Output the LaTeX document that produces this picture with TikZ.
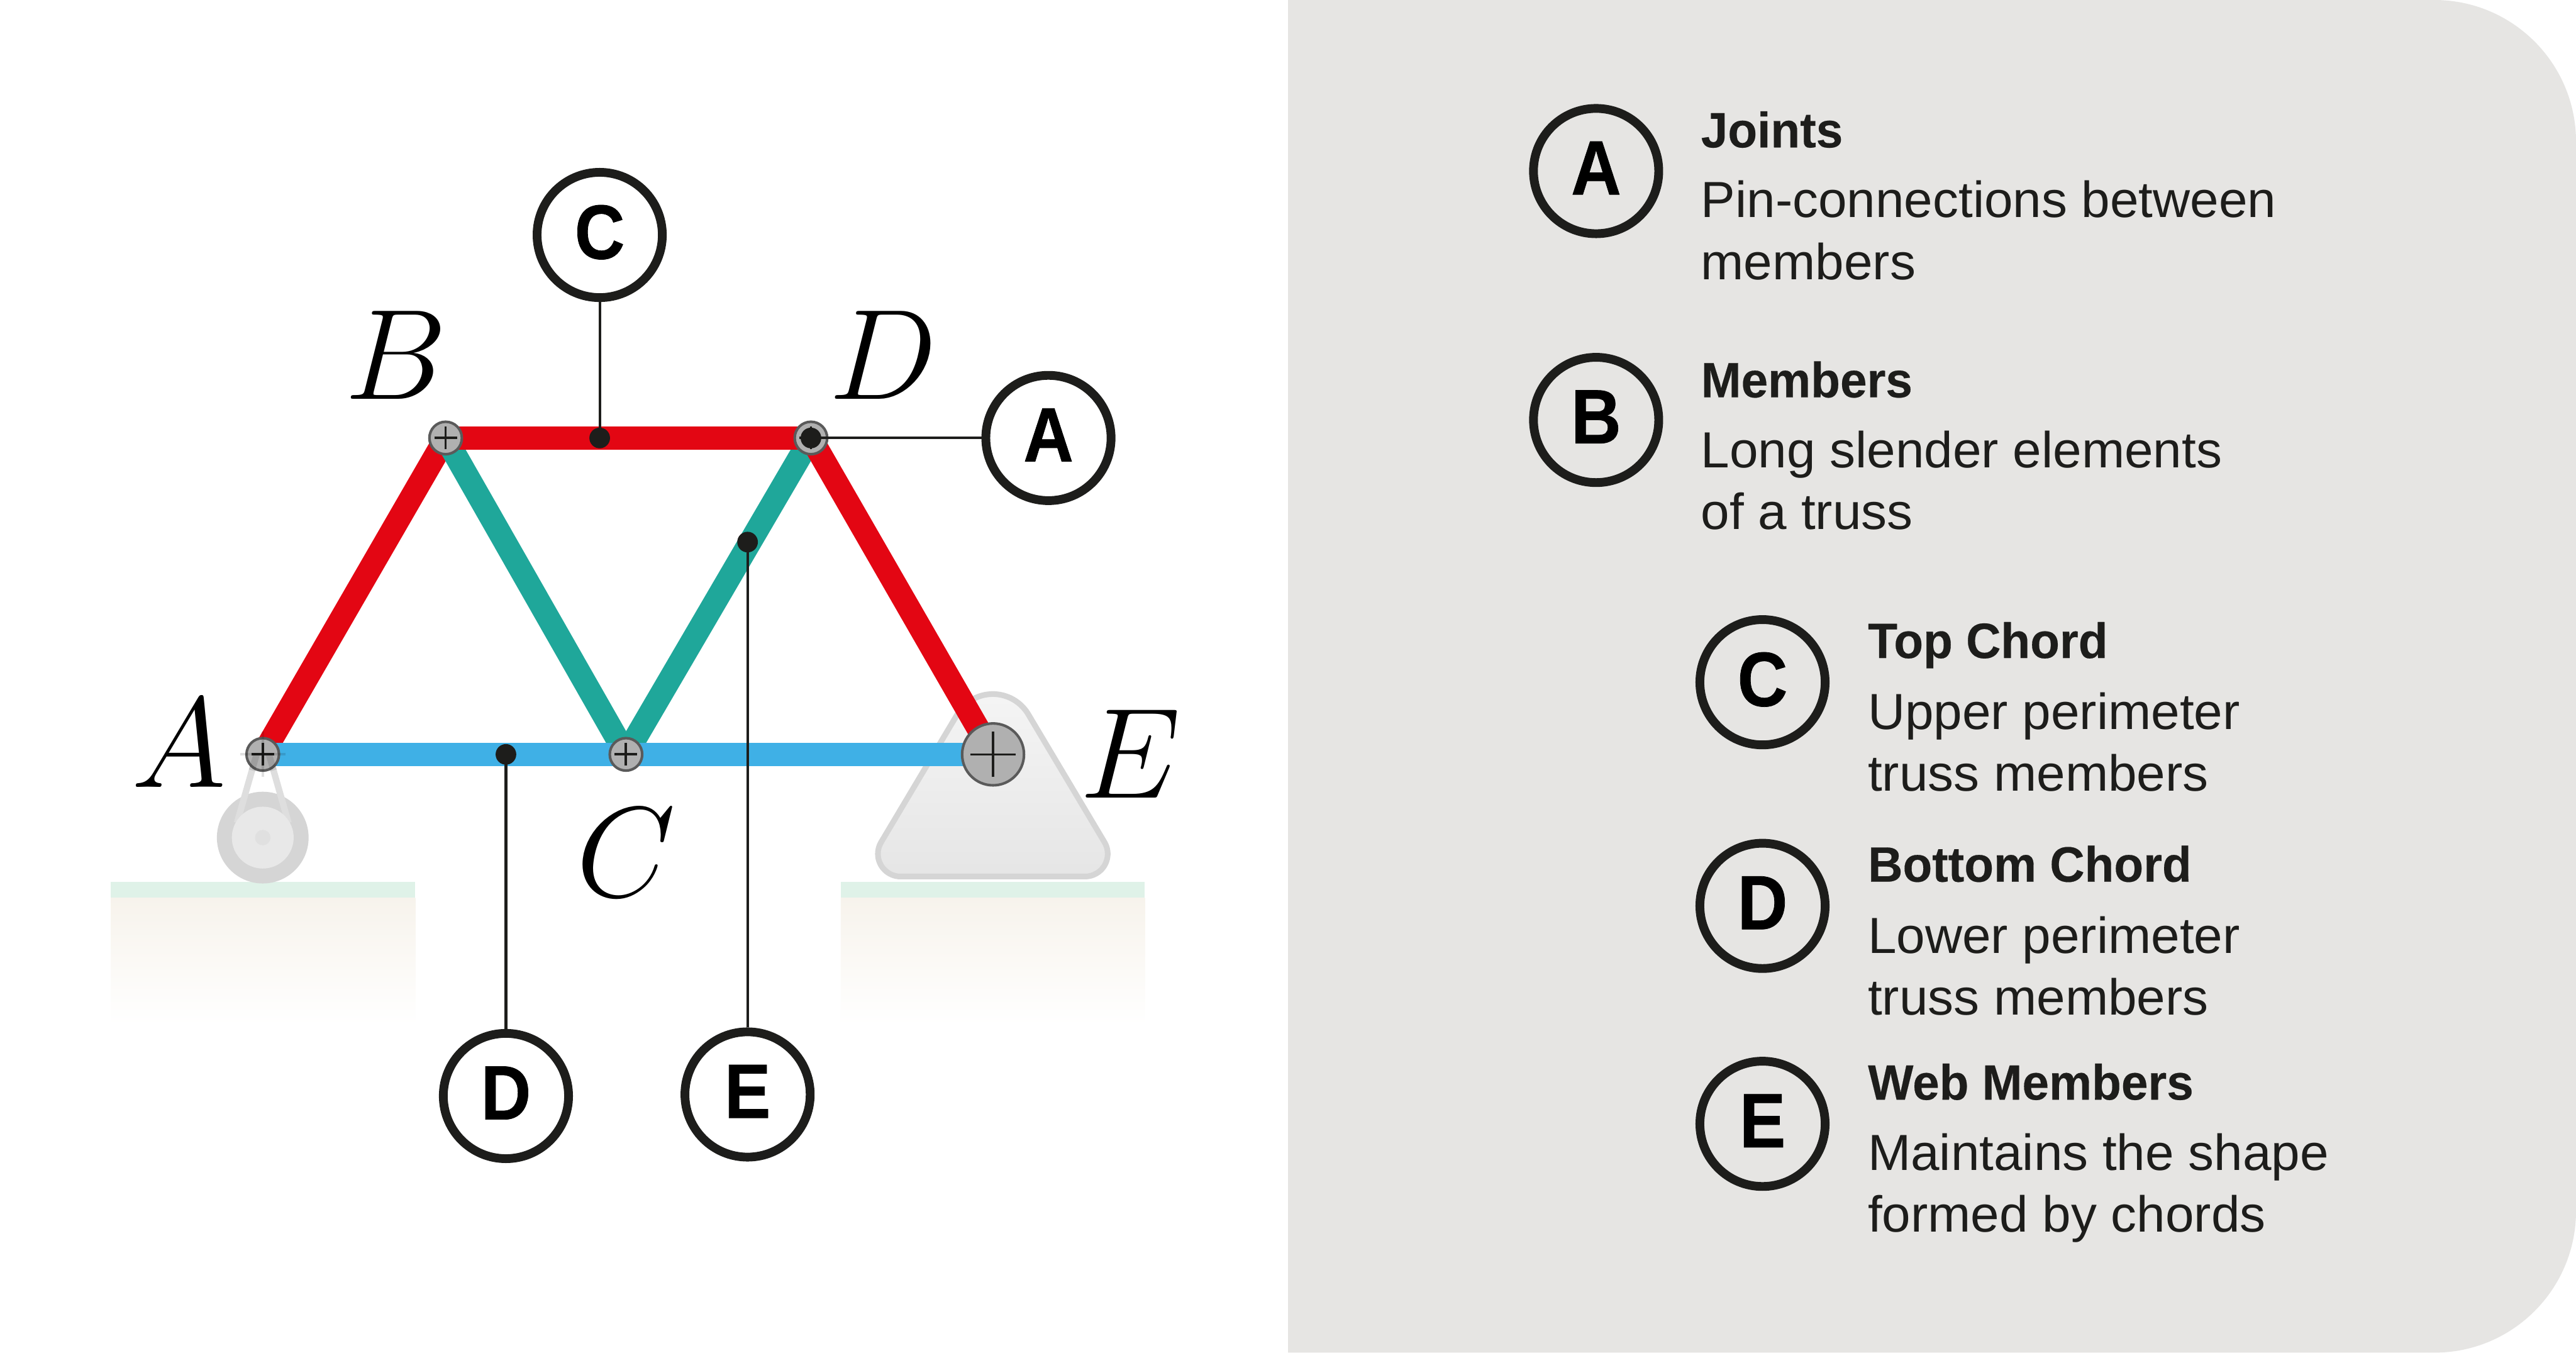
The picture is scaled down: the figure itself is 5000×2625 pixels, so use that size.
\RequirePackage{fix-cm}
\documentclass[tikz,border=0pt]{standalone}
\usepackage{fontspec}
\setmainfont[FakeStretch=1.015]{Liberation Sans}
\newfontfamily\titlefont[FakeStretch=0.97,FakeBold=0.25]{Liberation Sans Bold}
\newfontfamily\badgefont[FakeBold=0.6,FakeStretch=0.9]{Liberation Sans Bold}
\definecolor{ink}{HTML}{1D1D1B}
\definecolor{panelc}{HTML}{E6E5E3}
\definecolor{redm}{HTML}{E30613}
\definecolor{tealm}{HTML}{1FA79A}
\definecolor{bluem}{HTML}{3FB0E6}
\definecolor{pinfill}{HTML}{B0B0B0}
\definecolor{pinedge}{HTML}{5A5A5A}
\definecolor{supedge}{HTML}{D5D5D5}
\definecolor{legc}{HTML}{DEDEDE}
\definecolor{greenb}{HTML}{DFF2E8}
\definecolor{sandb}{HTML}{F7F3EC}
\tikzset{
  member/.style={line width=0.45cm,line cap=butt},
  badge/.style={circle,draw=ink,line width=0.17cm,fill=none,minimum size=2.43cm,inner sep=0pt,text depth=0.12cm,
    font=\fontsize{42.5pt}{42.5pt}\badgefont,text=black},
  leader/.style={draw=ink,line width=0.05cm},
  tip/.style={circle,fill=ink,minimum size=0.4cm,inner sep=0pt},
  pin/.style={circle,draw=pinedge,line width=0.05cm,fill=pinfill,minimum size=0.63cm,inner sep=0pt},
  bigpin/.style={circle,draw=pinedge,line width=0.05cm,fill=pinfill,minimum size=1.2cm,inner sep=0pt},
  ltitle/.style={anchor=base west,inner sep=0pt,font=\fontsize{27.4pt}{27.4pt}\titlefont,text=ink},
  ltext/.style={anchor=base west,inner sep=0pt,font=\fontsize{28pt}{28pt}\selectfont,text=ink},
  mathlab/.style={anchor=base west,inner sep=0pt,font=\fontsize{71pt}{71pt}\selectfont,text=black},
  x=0.01cm,y=-0.01cm
}
\begin{document}
\begin{tikzpicture}
\useasboundingbox (0,0) rectangle (5000,2625);
\fill[white] (0,0) rectangle (5000,2625);
% panel
\fill[panelc] (2500,0) -- (4725,0) arc[start angle=-90,end angle=0,radius=275] -- (5000,2350) arc[start angle=0,end angle=90,radius=275] -- (2500,2625) -- cycle;
% ground
\fill[greenb] (215,1711) rectangle (806,1742);
\shade[top color=sandb,bottom color=white] (215,1742) rectangle (806,1990);
\fill[greenb] (1632,1711) rectangle (2222,1742);
\shade[top color=sandb,bottom color=white] (1632,1742) rectangle (2222,1990);
% fixed support
\path[draw=supedge,line width=0.11cm,top color=white!96!black,bottom color=white!90!black]
  (1858.3,1386) arc[start angle=210.8,end angle=329.2,radius=80]
  -- (2143.8,1634.5) arc[start angle=-30.8,end angle=90,radius=44]
  -- (1748,1701) arc[start angle=90,end angle=210.8,radius=44] -- cycle;
% wheel and its legs
\fill[supedge] (510,1625.5) circle[radius=89];
\draw[legc,line width=0.125cm] (498,1464) -- (460,1597);
\draw[legc,line width=0.125cm] (522,1464) -- (560,1597);
\fill[white!91!black] (510,1625.5) circle[radius=60];
\fill[white!88!black] (510,1625.5) circle[radius=15];
% joints coordinates
\coordinate (jA) at (510,1464);
\coordinate (jB) at (865,850);
\coordinate (jC) at (1215,1464);
\coordinate (jD) at (1574,850);
\coordinate (jE) at (1927.5,1464);
% members
\draw[member,draw=redm] (jA) -- (jB);
\draw[member,draw=tealm] (jB) -- (jC);
\draw[member,draw=tealm] (jC) -- (jD);
\draw[member,draw=redm] (jD) -- (jE);
\draw[member,draw=redm] (jB) -- (jD);
\draw[member,draw=bluem] (jA) -- (jE);
% pins
\node[pin] (pA) at (jA) {};
\node[pin] (pB) at (jB) {};
\node[pin] (pC) at (jC) {};
\node[pin] (pD) at (jD) {};
\node[bigpin] (pE) at (jE) {};
\foreach \p in {jA,jB,jC,jD}{
  \draw[ink,line width=0.045cm] ([xshift=-0.22cm]\p) -- ([xshift=0.22cm]\p);
  \draw[ink,line width=0.045cm] ([yshift=-0.22cm]\p) -- ([yshift=0.22cm]\p);
}
\draw[ink,line width=0.04cm] ([xshift=-0.44cm]jE) -- ([xshift=0.44cm]jE);
\draw[ink,line width=0.04cm] ([yshift=-0.44cm]jE) -- ([yshift=0.44cm]jE);
% faint parts of the roller
\draw[black,opacity=0.12,line width=0.045cm] ([xshift=-0.44cm]jA) -- ([xshift=0.44cm]jA);
\draw[black,opacity=0.12,line width=0.045cm] ([yshift=-0.44cm]jA) -- ([yshift=0.44cm]jA);
\draw[black,opacity=0.1,line width=0.125cm] (498,1464) -- (489,1495);
\draw[black,opacity=0.1,line width=0.125cm] (522,1464) -- (531,1495);
% math labels
\node[mathlab] (lA) at (255,1528) {\(A\)};
\node[mathlab] (lB) at (669,775) {\(B\)};
\node[mathlab] (lC) at (1118,1740) {\(C\)};
\node[mathlab] (lD) at (1609,775) {\(D\)};
\node[mathlab] (lE) at (2096,1548) {\(E\)};
% callouts
\node[badge] (cC) at (1164,456) {C};
\node[badge] (cA) at (2035,850) {A};
\node[badge] (cD) at (982,2127) {D};
\node[badge] (cE) at (1451,2124) {E};
\node[tip] (tC) at (1164,850) {};
\node[tip] (tA) at (1574,850) {};
\node[tip] (tD) at (982,1464) {};
\node[tip] (tE) at (1451,1052) {};
\draw[leader] (cC) -- (tC.center);
\draw[leader] (cA) -- (tA.center);
\draw[leader] (cD) -- (tD.center);
\draw[leader] (cE) -- (tE.center);
% legend
\node[badge] (kA) at (3098,332) {A};
\node[badge] (kB) at (3098,815) {B};
\node[badge] (kC) at (3421,1324) {C};
\node[badge] (kD) at (3421,1758) {D};
\node[badge] (kE) at (3421,2181) {E};
\node[ltitle] (a1) at (3301,286) {Joints};
\node[ltext] (a2) at (3301,422) {Pin-connections between};
\node[ltext] (a3) at (3301,542) {members};
\node[ltitle] (b1) at (3301,771) {Members};
\node[ltext] (b2) at (3301,907) {Long slender elements};
\node[ltext] (b3) at (3301,1027) {of a truss};
\node[ltitle] (c1) at (3625,1277) {Top Chord};
\node[ltext] (c2) at (3625,1416) {Upper perimeter};
\node[ltext] (c3) at (3625,1535) {truss members};
\node[ltitle] (d1) at (3625,1711) {Bottom Chord};
\node[ltext] (d2) at (3625,1850) {Lower perimeter};
\node[ltext] (d3) at (3625,1970) {truss members};
\node[ltitle] (e1) at (3625,2134) {Web Members};
\node[ltext] (e2) at (3625,2271) {Maintains the shape};
\node[ltext] (e3) at (3625,2391) {formed by chords};
\end{tikzpicture}
\end{document}
